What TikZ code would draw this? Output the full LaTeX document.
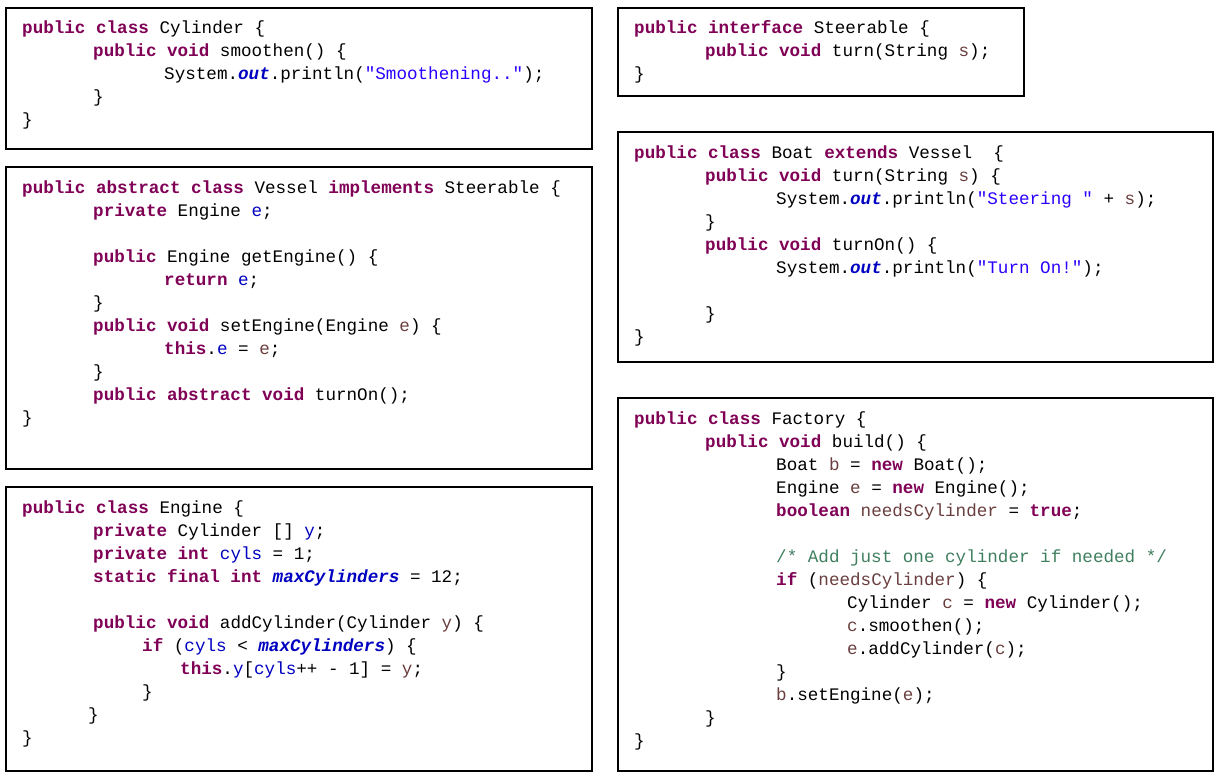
\documentclass[tikz,border=0pt]{standalone}
\usepackage{fontspec}
\setmonofont{Liberation Mono}
\definecolor{kwc}{RGB}{127,0,85}
\definecolor{fdc}{RGB}{0,0,192}
\definecolor{stc}{RGB}{42,0,255}
\definecolor{vrc}{RGB}{106,62,62}
\definecolor{cmc}{RGB}{63,127,95}
\newcommand\kw[1]{\textbf{\color{kwc}#1}}
\newcommand\fd[1]{{\color{fdc}#1}}
\newcommand\fst[1]{\textbf{\textit{\color{fdc}#1}}}
\newcommand\str[1]{{\color{stc}#1}}
\newcommand\vr[1]{{\color{vrc}#1}}
\newcommand\cmt[1]{{\color{cmc}#1}}
\newcommand\cl[3]{\node[code] at (#1,#2+6) {#3};}
\tikzset{code/.style={anchor=base west,inner sep=0pt,font=\ttfamily\fontsize{17.6}{20}\selectfont},
 box/.style={draw,line width=1.5pt}}
\begin{document}
\begin{tikzpicture}[x=1pt,y=-1pt]
\useasboundingbox (0,0) rectangle (1219,777);
\draw[box] (6,8) rectangle (592,149) node[pos=0.5,inner sep=0] (cyl) {};
\draw[box] (6,167) rectangle (592,469) node[pos=0.5,inner sep=0] (ves) {};
\draw[box] (6,487) rectangle (592,771) node[pos=0.5,inner sep=0] (eng) {};
\draw[box] (618,8) rectangle (1024,96) node[pos=0.5,inner sep=0] (ste) {};
\draw[box] (618,132) rectangle (1213,362) node[pos=0.5,inner sep=0] (boat) {};
\draw[box] (618,398) rectangle (1213,771) node[pos=0.5,inner sep=0] (fac) {};
% Cylinder
\cl{22}{27}{\kw{public class} Cylinder \{}
\cl{93}{50}{\kw{public void} smoothen() \{}
\cl{164}{73}{System.\fst{out}.println(\str{"Smoothening.."});}
\cl{93}{96}{\}}
\cl{22}{119}{\}}
% Vessel
\cl{22}{187}{\kw{public abstract class} Vessel \kw{implements} Steerable \{}
\cl{93}{210}{\kw{private} Engine \fd{e};}
\cl{93}{256}{\kw{public} Engine getEngine() \{}
\cl{164}{279}{\kw{return} \fd{e};}
\cl{93}{302}{\}}
\cl{93}{325}{\kw{public void} setEngine(Engine \vr{e}) \{}
\cl{164}{348}{\kw{this}.\fd{e} = \vr{e};}
\cl{93}{371}{\}}
\cl{93}{394}{\kw{public abstract void} turnOn();}
\cl{22}{417}{\}}
% Engine
\cl{22}{507}{\kw{public class} Engine \{}
\cl{93}{530}{\kw{private} Cylinder [] \fd{y};}
\cl{93}{553}{\kw{private int} \fd{cyls} = 1;}
\cl{93}{576}{\kw{static final int} \fst{maxCylinders} = 12;}
\cl{93}{622}{\kw{public void} addCylinder(Cylinder \vr{y}) \{}
\cl{142}{645}{\kw{if} (\fd{cyls} < \fst{maxCylinders}) \{}
\cl{180}{668}{\kw{this}.\fd{y}[\fd{cyls}++ - 1] = \vr{y};}
\cl{142}{691}{\}}
\cl{88}{714}{\}}
\cl{22}{737}{\}}
% Steerable
\cl{634}{27}{\kw{public interface} Steerable \{}
\cl{705}{50}{\kw{public void} turn(String \vr{s});}
\cl{634}{73}{\}}
% Boat
\cl{634}{152}{\kw{public class} Boat \kw{extends} Vessel \ \{}
\cl{705}{175}{\kw{public void} turn(String \vr{s}) \{}
\cl{776}{198}{System.\fst{out}.println(\str{"Steering "} + \vr{s});}
\cl{705}{221}{\}}
\cl{705}{244}{\kw{public void} turnOn() \{}
\cl{776}{267}{System.\fst{out}.println(\str{"Turn On!"});}
\cl{705}{313}{\}}
\cl{634}{336}{\}}
% Factory
\cl{634}{418}{\kw{public class} Factory \{}
\cl{705}{441}{\kw{public void} build() \{}
\cl{776}{464}{Boat \vr{b} = \kw{new} Boat();}
\cl{776}{487}{Engine \vr{e} = \kw{new} Engine();}
\cl{776}{510}{\kw{boolean} \vr{needsCylinder} = \kw{true};}
\cl{776}{556}{\cmt{/* Add just one cylinder if needed */}}
\cl{776}{579}{\kw{if} (\vr{needsCylinder}) \{}
\cl{847}{602}{Cylinder \vr{c} = \kw{new} Cylinder();}
\cl{847}{625}{\vr{c}.smoothen();}
\cl{847}{648}{\vr{e}.addCylinder(\vr{c});}
\cl{776}{671}{\}}
\cl{776}{694}{\vr{b}.setEngine(\vr{e});}
\cl{705}{717}{\}}
\cl{634}{740}{\}}
\end{tikzpicture}
\end{document}
